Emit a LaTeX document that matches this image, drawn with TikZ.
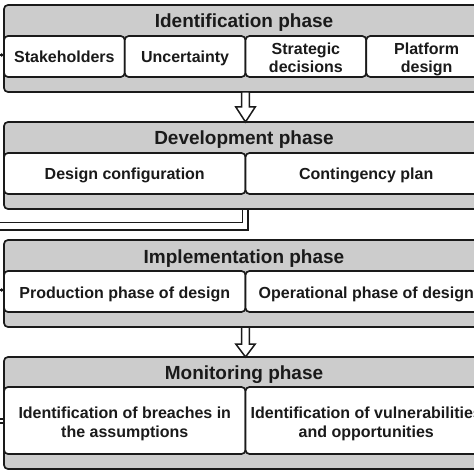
\documentclass[tikz,border=0pt]{standalone}
\usepackage{fontspec}
\setmainfont{Liberation Sans}
\usetikzlibrary{arrows.meta,calc}
\definecolor{phasegray}{RGB}{204,204,204}
\definecolor{ink}{RGB}{26,26,26}
\begin{document}
\begin{tikzpicture}[x=1bp,y=-1bp,
  phase/.style={draw=ink, line width=1.7bp, fill=phasegray, rounded corners=4bp, inner sep=0pt, outer sep=0pt},
  item/.style={draw=ink, line width=1.7bp, fill=white, rounded corners=4bp, inner sep=0pt, outer sep=0pt, align=center, text=ink, font=\fontsize{16bp}{18.5bp}\selectfont\bfseries},
  oneline/.style={text height=16.5bp, text depth=3.5bp},
  twoline/.style={text height=36.5bp, text depth=3.5bp},
  title/.style={text=ink, font=\fontsize{19bp}{22bp}\selectfont\bfseries, inner sep=0pt, anchor=base},
  blockarrow/.style={draw=ink, line width=1.5bp, fill=white, line join=miter},
  feedback/.style={draw=ink, line width=1.3bp},
  entry/.style={draw=ink, line width=1.2bp, -{Stealth[length=3bp,width=4bp]}}
]
\useasboundingbox (0,0) rectangle (474,474);
\clip (0,0) rectangle (474,474);
\fill[white] (0,0) rectangle (474,474);

% phase frames
\node[phase, minimum width=483bp, minimum height=87bp] (p1) at (245.5,48.5) {};
\node[phase, minimum width=483bp, minimum height=87bp] (p2) at (245.5,165.5) {};
\node[phase, minimum width=483bp, minimum height=87bp] (p3) at (245.5,283.5) {};
\node[phase, minimum width=483bp, minimum height=112bp] (p4) at (245.5,413) {};

% titles
\node[title] (t1) at (244,28) {Identification phase};
\node[title] (t2) at (244,145) {Development phase};
\node[title] (t3) at (244,263.3) {Implementation phase};
\node[title] (t4) at (244,379.5) {Monitoring phase};

% items
\node[item, oneline, minimum width=120.75bp, minimum height=41bp] (i11) at (64.375,56.5) {Stakeholders};
\node[item, oneline, minimum width=120.75bp, minimum height=41bp] (i12) at (185.125,56.5) {Uncertainty};
\node[item, twoline, minimum width=120.75bp, minimum height=41bp] (i13) at (305.875,56.5) {Strategic\\decisions};
\node[item, twoline, minimum width=120.75bp, minimum height=41bp] (i14) at (426.625,56.5) {Platform\\design};

\node[item, oneline, minimum width=241.5bp, minimum height=41bp] (i21) at (124.75,173.5) {Design configuration};
\node[item, oneline, minimum width=241.5bp, minimum height=41bp] (i22) at (366.25,173.5) {Contingency plan};

\node[item, oneline, minimum width=241.5bp, minimum height=41bp] (i31) at (124.75,291.5) {Production phase of design};
\node[item, oneline, minimum width=241.5bp, minimum height=41bp] (i32) at (366.25,291.5) {Operational phase of design};

\node[item, twoline, minimum width=241.5bp, minimum height=67bp] (i41) at (124.75,420.5) {Identification of breaches in\\the assumptions};
\node[item, twoline, minimum width=241.5bp, minimum height=67bp] (i42) at (366.25,420.5) {Identification of vulnerabilities\\and opportunities};

% block arrows
\draw[blockarrow] ($(p1.south)+(-3.8,0)$) -- ($(p1.south)+(3.8,0)$) -- ($(p2.north)+(3.8,-15)$) -- ($(p2.north)+(9.7,-15)$) -- (p2.north) -- ($(p2.north)+(-9.7,-15)$) -- ($(p2.north)+(-3.8,-15)$) -- cycle;
\draw[blockarrow] ($(p3.south)+(-3.8,0)$) -- ($(p3.south)+(3.8,0)$) -- ($(p4.north)+(3.8,-13)$) -- ($(p4.north)+(9.7,-13)$) -- (p4.north) -- ($(p4.north)+(-9.7,-13)$) -- ($(p4.north)+(-3.8,-13)$) -- cycle;

% feedback band from development phase
\coordinate (fb1) at (0,222.7);
\coordinate (fb2) at (0,230);
\draw[feedback] ($(p2.south)+(-2.8,0)$) |- (fb1);
\draw[feedback] ($(p2.south)+(2.5,0)$) |- (fb2);

% entries on the left
\coordinate (e1) at (0,55);
\coordinate (e3) at (0,290);
\draw[entry] (e1) -- (e1 -| i11.west);
\draw[entry] (e3) -- (e3 -| i31.west);
\coordinate (m1) at (0,419);
\coordinate (m2) at (0,423);
\draw[feedback] (m1) -- (m1 -| i41.west);
\draw[feedback] (m2) -- (m2 -| i41.west);
\end{tikzpicture}
\end{document}
